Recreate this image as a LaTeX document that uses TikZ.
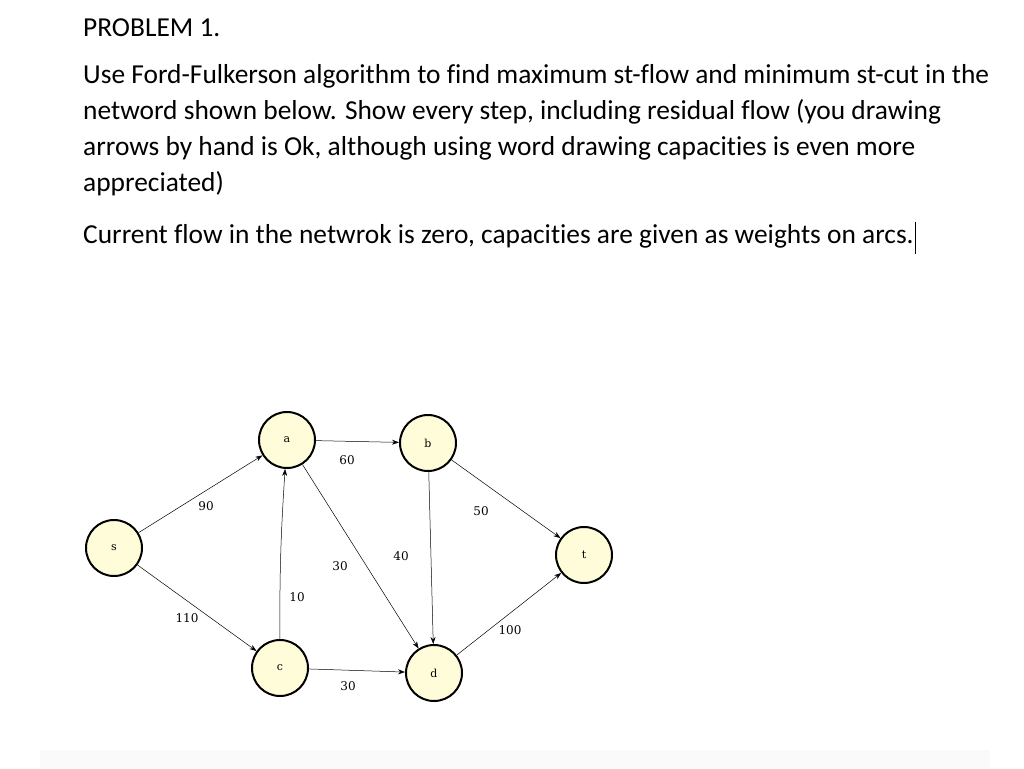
\documentclass[tikz,border=0pt]{standalone}
\usepackage{fontspec}
\setmainfont[Ligatures=NoCommon,Contextuals=NoAlternate]{Carlito}
\newfontfamily\lblfont{DejaVu Serif}
\usetikzlibrary{arrows.meta}
\begin{document}
\begin{tikzpicture}[x=1pt,y=-1pt,
  vtx/.style={circle,draw,line width=2pt,fill=yellow!15,minimum size=56pt,inner sep=0pt,font=\lblfont\fontsize{11}{12}\selectfont},
  arc/.style={-{Stealth[length=7pt,width=5pt]},line width=0.5pt},
  wt/.style={font=\lblfont\fontsize{12}{14}\selectfont},
  txt/.style={anchor=west,inner sep=0pt,font=\fontsize{27.4}{30}\selectfont}]
\useasboundingbox (0,0) rectangle (1024,768);
\fill[gray!4] (40,750) rectangle (990,768);
\node[txt] (title) at (83,28) {PROBLEM 1.};
\node[txt] (l1) at (83,76) {Use Ford-Fulkerson algorithm to find maximum st-flow and minimum st-cut in the};
\node[txt] (l2) at (83,112) {netword shown below. Show every step, including residual flow (you drawing};
\node[txt] (l3) at (83,148) {arrows by hand is Ok, although using word drawing capacities is even more};
\node[txt] (l4) at (83,184) {appreciated)};
\node[txt] (l5) at (83,236) {Current flow in the netwrok is zero, capacities are given as weights on arcs.};
\draw[line width=0.8pt] (915,222) -- (915,254);
\node[vtx] (s) at (114,548) {s};
\node[vtx] (a) at (287,440) {a};
\node[vtx] (b) at (428,443) {b};
\node[vtx] (t) at (584,555) {t};
\node[vtx] (c) at (280,668) {c};
\node[vtx] (d) at (434,673) {d};
\draw[arc] (s) -- (a);
\draw[arc] (s) -- (c);
\draw[arc] (a) -- (b);
\draw[arc] (c) to[bend left=2] (a);
\draw[arc] (a) -- (d);
\draw[arc] (b) -- (d);
\draw[arc] (c) -- (d);
\draw[arc] (b) -- (t);
\draw[arc] (d) -- (t);
\node[wt] (w1) at (206,506) {90};
\node[wt] (w2) at (187,618) {110};
\node[wt] (w3) at (347,460) {60};
\node[wt] (w4) at (340,566) {30};
\node[wt] (w5) at (297,597) {10};
\node[wt] (w6) at (401,556) {40};
\node[wt] (w7) at (481,511) {50};
\node[wt] (w8) at (510,630) {100};
\node[wt] (w9) at (348,686) {30};
\end{tikzpicture}
\end{document}
